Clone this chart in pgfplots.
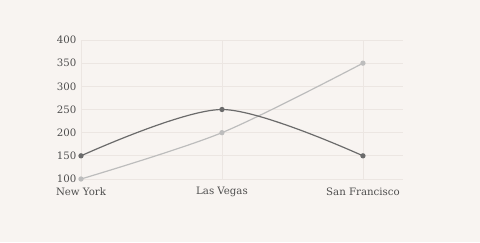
\documentclass[border=0pt]{standalone}
\usepackage{fontspec}
\setmainfont{DejaVu Serif}
\usepackage{pgfplots}
\pgfplotsset{compat=1.18}
\definecolor{bg}{HTML}{F8F4F1}
\definecolor{gridc}{HTML}{ECE6E2}
\definecolor{darkl}{HTML}{6B6B6B}
\definecolor{lightl}{HTML}{BDBDBD}
\definecolor{txt}{HTML}{4E4E4E}
\begin{document}
\begin{tikzpicture}
\fill[bg] (0,0) rectangle (480pt,242pt);
\path[use as bounding box] (0,0) rectangle (480pt,242pt);
\begin{axis}[
  at={(81pt,63pt)}, anchor=south west,
  scale only axis, width=322pt, height=139pt,
  xmin=0, xmax=2.284, ymin=100, ymax=400,
  xtick={0,1,2}, xticklabels={New York, Las Vegas, San Francisco},
  ytick={100,150,...,400},
  axis line style={draw=none},
  major tick length=0pt,
  grid=major,
  grid style={gridc, line width=0.8pt},
  tick label style={font=\fontsize{10.2}{12}\selectfont, text=txt},
  yticklabel style={xshift=-1pt},
  xticklabel style={yshift=-5pt},
  /pgf/number format/assume math mode=true,
  clip=false,
]
\addplot[lightl, line width=1.2pt, smooth, mark=*, mark size=2pt, mark options={draw=lightl, fill=lightl}] coordinates {(0,100) (1,200) (2,350)};
\addplot[darkl, line width=1.2pt, smooth, mark=*, mark size=2pt, mark options={draw=darkl, fill=darkl}] coordinates {(0,150) (1,250) (2,150)};
\end{axis}
\end{tikzpicture}
\end{document}
